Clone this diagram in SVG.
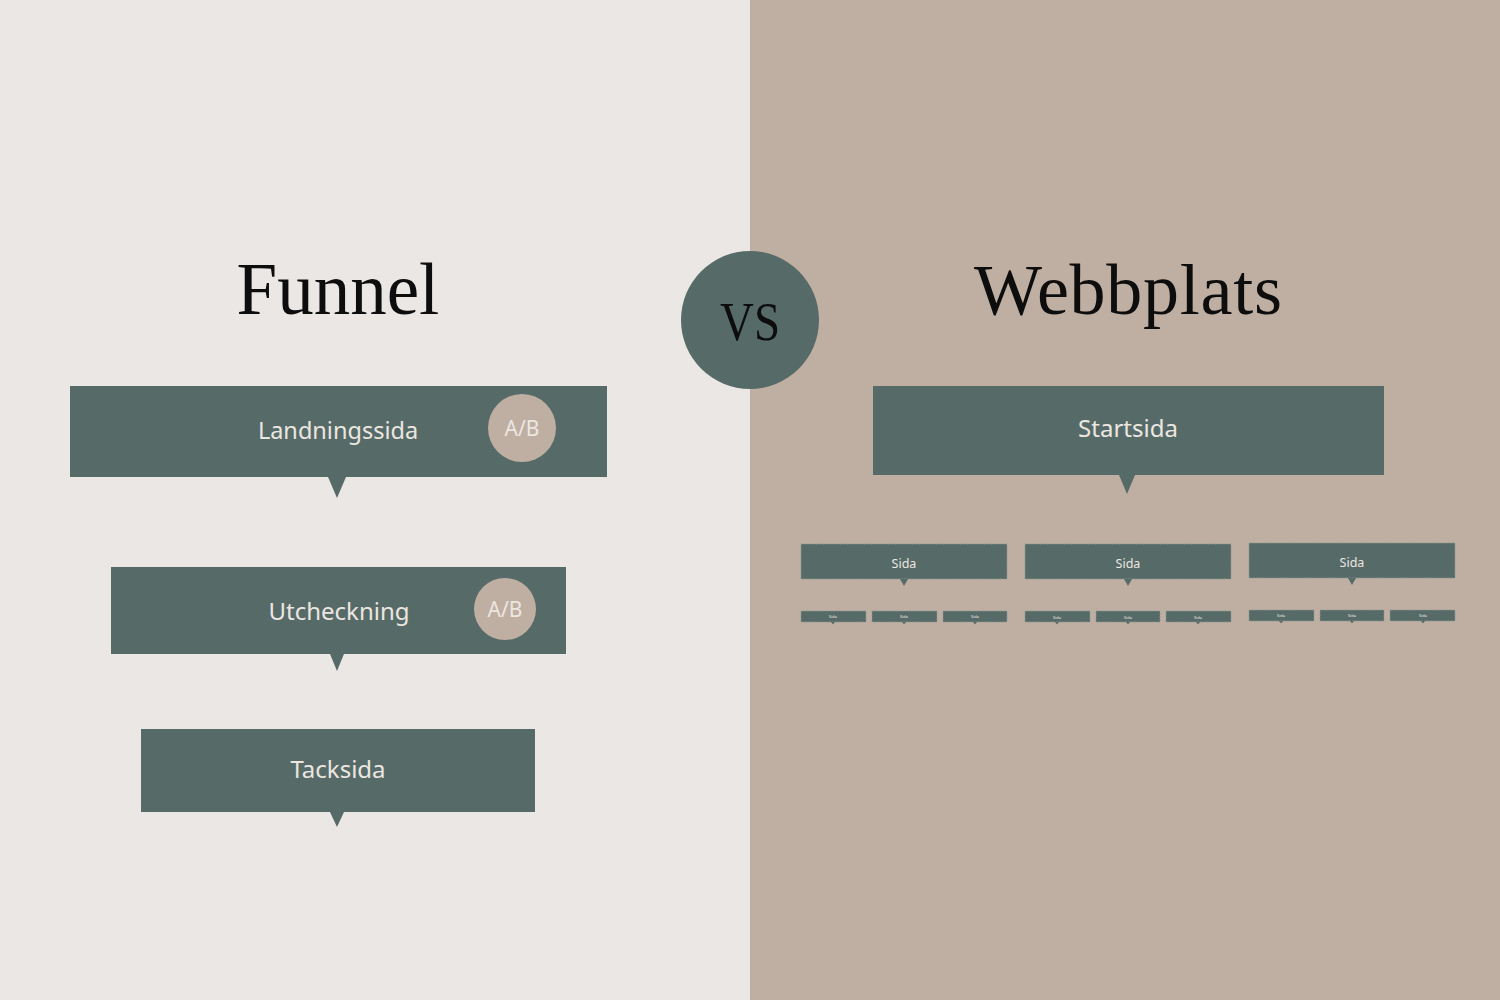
<svg xmlns="http://www.w3.org/2000/svg" width="1500" height="1000" viewBox="0 0 1500 1000">
<defs>
<style>
.box{fill:#566b68}
.sbox{fill:#566b68;stroke:#8e9893;stroke-width:0.8;stroke-dasharray:2 1}
.ab{fill:#bfafa2}
.title{font-family:"Liberation Serif",serif;fill:#0d0d0d;text-anchor:middle}
.lbl{font-family:"Noto Sans","Open Sans",sans-serif;fill:#ece6e1;text-anchor:middle}
</style>
</defs>
<rect x="0" y="0" width="750" height="1000" fill="#ebe7e4"/>
<rect x="750" y="0" width="750" height="1000" fill="#bfafa2"/>

<text class="title" x="338" y="314" font-size="73">Funnel</text>
<text class="title" x="1128" y="314" font-size="72" textLength="308" lengthAdjust="spacing">Webbplats</text>

<g id="vs">
<circle cx="750" cy="320" r="69" fill="#566b68"/>
<text class="title" x="750" y="340" font-size="54" textLength="60" lengthAdjust="spacingAndGlyphs">VS</text>
</g>

<g id="landningssida">
<rect class="box" x="70" y="386" width="537" height="91"/>
<polygon class="box" points="328,477 346,477 337,498"/>
<text class="lbl" x="338" y="439" font-size="23.5">Landningssida</text>
<circle class="ab" cx="522" cy="428" r="34"/>
<text class="lbl" x="522" y="436" font-size="21">A/B</text>
</g>

<g id="utcheckning">
<rect class="box" x="111" y="567" width="455" height="87"/>
<polygon class="box" points="330,654 344,654 337,671"/>
<text class="lbl" x="339" y="620" font-size="24">Utcheckning</text>
<circle class="ab" cx="505" cy="609" r="31"/>
<text class="lbl" x="505" y="617" font-size="21">A/B</text>
</g>

<g id="tacksida">
<rect class="box" x="141" y="729" width="394" height="83"/>
<polygon class="box" points="330,812 344,812 337,827"/>
<text class="lbl" x="338" y="778" font-size="24">Tacksida</text>
</g>

<g id="startsida">
<rect class="box" x="873" y="386" width="511" height="89"/>
<polygon class="box" points="1119,475 1135,475 1127,494"/>
<text class="lbl" x="1128" y="437" font-size="24">Startsida</text>
</g>

<g id="sida1">
<rect class="sbox" x="801" y="544" width="206" height="35"/>
<polygon class="box" points="900,579 908,579 904,586"/>
<text class="lbl" x="904" y="568" font-size="12.5">Sida</text>
</g>
<g id="sida2">
<rect class="sbox" x="1025" y="544" width="206" height="35"/>
<polygon class="box" points="1124,579 1132,579 1128,586"/>
<text class="lbl" x="1128" y="568" font-size="12.5">Sida</text>
</g>
<g id="sida3">
<rect class="sbox" x="1249" y="543" width="206" height="35"/>
<polygon class="box" points="1348,578 1356,578 1352,585"/>
<text class="lbl" x="1352" y="567" font-size="12.5">Sida</text>
</g>

<g id="sida1a"><rect class="sbox" x="801" y="611" width="65" height="11"/><polygon class="box" points="831,622 835,622 833,624.5"/><text class="lbl" x="833" y="618" font-size="4">Sida</text></g>
<g id="sida1b"><rect class="sbox" x="872" y="611" width="65" height="11"/><polygon class="box" points="902,622 906,622 904,624.5"/><text class="lbl" x="904" y="618" font-size="4">Sida</text></g>
<g id="sida1c"><rect class="sbox" x="943" y="611" width="64" height="11"/><polygon class="box" points="973,622 977,622 975,624.5"/><text class="lbl" x="975" y="618" font-size="4">Sida</text></g>

<g id="sida2a"><rect class="sbox" x="1025" y="611" width="65" height="11"/><polygon class="box" points="1055,622 1059,622 1057,624.5"/><text class="lbl" x="1057" y="618.5" font-size="4">Sida</text></g>
<g id="sida2b"><rect class="sbox" x="1096" y="611" width="64" height="11"/><polygon class="box" points="1126,622 1130,622 1128,624.5"/><text class="lbl" x="1128" y="618.5" font-size="4">Sida</text></g>
<g id="sida2c"><rect class="sbox" x="1166" y="611" width="65" height="11"/><polygon class="box" points="1196,622 1200,622 1198,624.5"/><text class="lbl" x="1198" y="618.5" font-size="4">Sida</text></g>

<g id="sida3a"><rect class="sbox" x="1249" y="610" width="65" height="11"/><polygon class="box" points="1279,621 1283,621 1281,623.5"/><text class="lbl" x="1281" y="617" font-size="4">Sida</text></g>
<g id="sida3b"><rect class="sbox" x="1320" y="610" width="64" height="11"/><polygon class="box" points="1350,621 1354,621 1352,623.5"/><text class="lbl" x="1352" y="617" font-size="4">Sida</text></g>
<g id="sida3c"><rect class="sbox" x="1390" y="610" width="65" height="11"/><polygon class="box" points="1421,621 1425,621 1423,623.5"/><text class="lbl" x="1423" y="617" font-size="4">Sida</text></g>

<g id="connectors"></g>
</svg>
